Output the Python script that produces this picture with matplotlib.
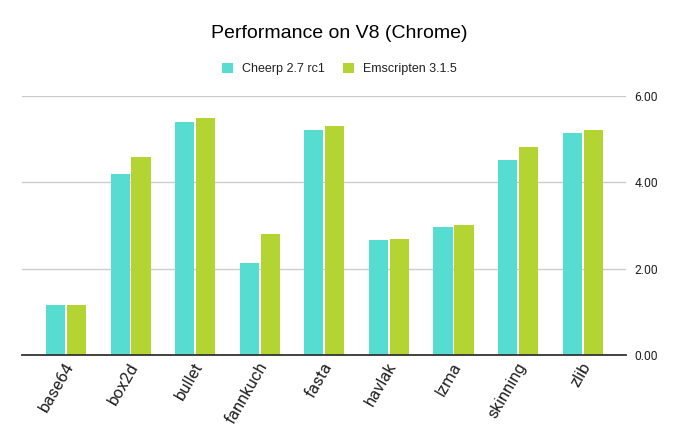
import matplotlib
matplotlib.use("Agg")
import matplotlib.pyplot as plt
import matplotlib.transforms as mtransforms
import numpy as np

categories = ["base64", "box2d", "bullet", "fannkuch", "fasta", "havlak", "lzma", "skinning", "zlib"]
cheerp = [1.16, 4.20, 5.40, 2.14, 5.21, 2.67, 2.97, 4.52, 5.15]
emscripten = [1.16, 4.59, 5.49, 2.81, 5.31, 2.69, 3.02, 4.82, 5.21]
series_names = ["Cheerp 2.7 rc1", "Emscripten 3.1.5"]
colors = ["#56DCD1", "#B4D433"]
yticks = [0, 2, 4, 6]

fig = plt.figure(figsize=(6.79, 4.43), dpi=100)
ax = fig.add_axes([22/679, 1-355.3/443, (626-22)/679, (355.3-96)/443])

x = np.arange(len(categories))
w = 0.295
off = 0.1625
ax.bar(x - off, cheerp, w, color=colors[0], label=series_names[0], zorder=3)
ax.bar(x + off, emscripten, w, color=colors[1], label=series_names[1], zorder=3)

ax.set_xlim(-0.68, 8.67)
ax.set_ylim(0, 6)
ax.set_yticks(yticks)
ax.set_yticklabels([f"{v:.2f}" for v in yticks], fontfamily="Roboto", fontsize=8.7, color="#222222")
ax.yaxis.tick_right()
ax.tick_params(axis="y", length=0, pad=6)
ax.set_xticks(x)
ax.set_xticklabels(categories, rotation=60, ha="right", va="center", rotation_mode="anchor",
                   fontfamily="Roboto", fontsize=12, color="#222222")
ax.tick_params(axis="x", length=0, pad=6)
shift = mtransforms.ScaledTranslation(4/100, 0, fig.dpi_scale_trans)
for lbl in ax.get_xticklabels():
    lbl.set_transform(lbl.get_transform() + shift)
ax.grid(axis="y", color="#CCCCCC", linewidth=1, zorder=0)
for s in ["top", "right", "left"]:
    ax.spines[s].set_visible(False)
ax.spines["bottom"].set_color("#333333")
ax.spines["bottom"].set_linewidth(1.3)
ax.spines["bottom"].set_zorder(4)

fig.text(339.5/679, 1-33/443, "Performance on V8 (Chrome)", ha="center", va="center",
         fontfamily="Liberation Sans", fontsize=14, color="#000000")
leg = fig.legend(loc="center", bbox_to_anchor=(339.5/679, 1-69/443), ncol=2, frameon=False,
                 prop={"family": "Liberation Sans", "size": 9}, handlelength=0.9, handleheight=0.9,
                 columnspacing=1.4, handletextpad=0.75)
for t in leg.get_texts():
    t.set_color("#222222")

fig.savefig("out.png", dpi=100)
